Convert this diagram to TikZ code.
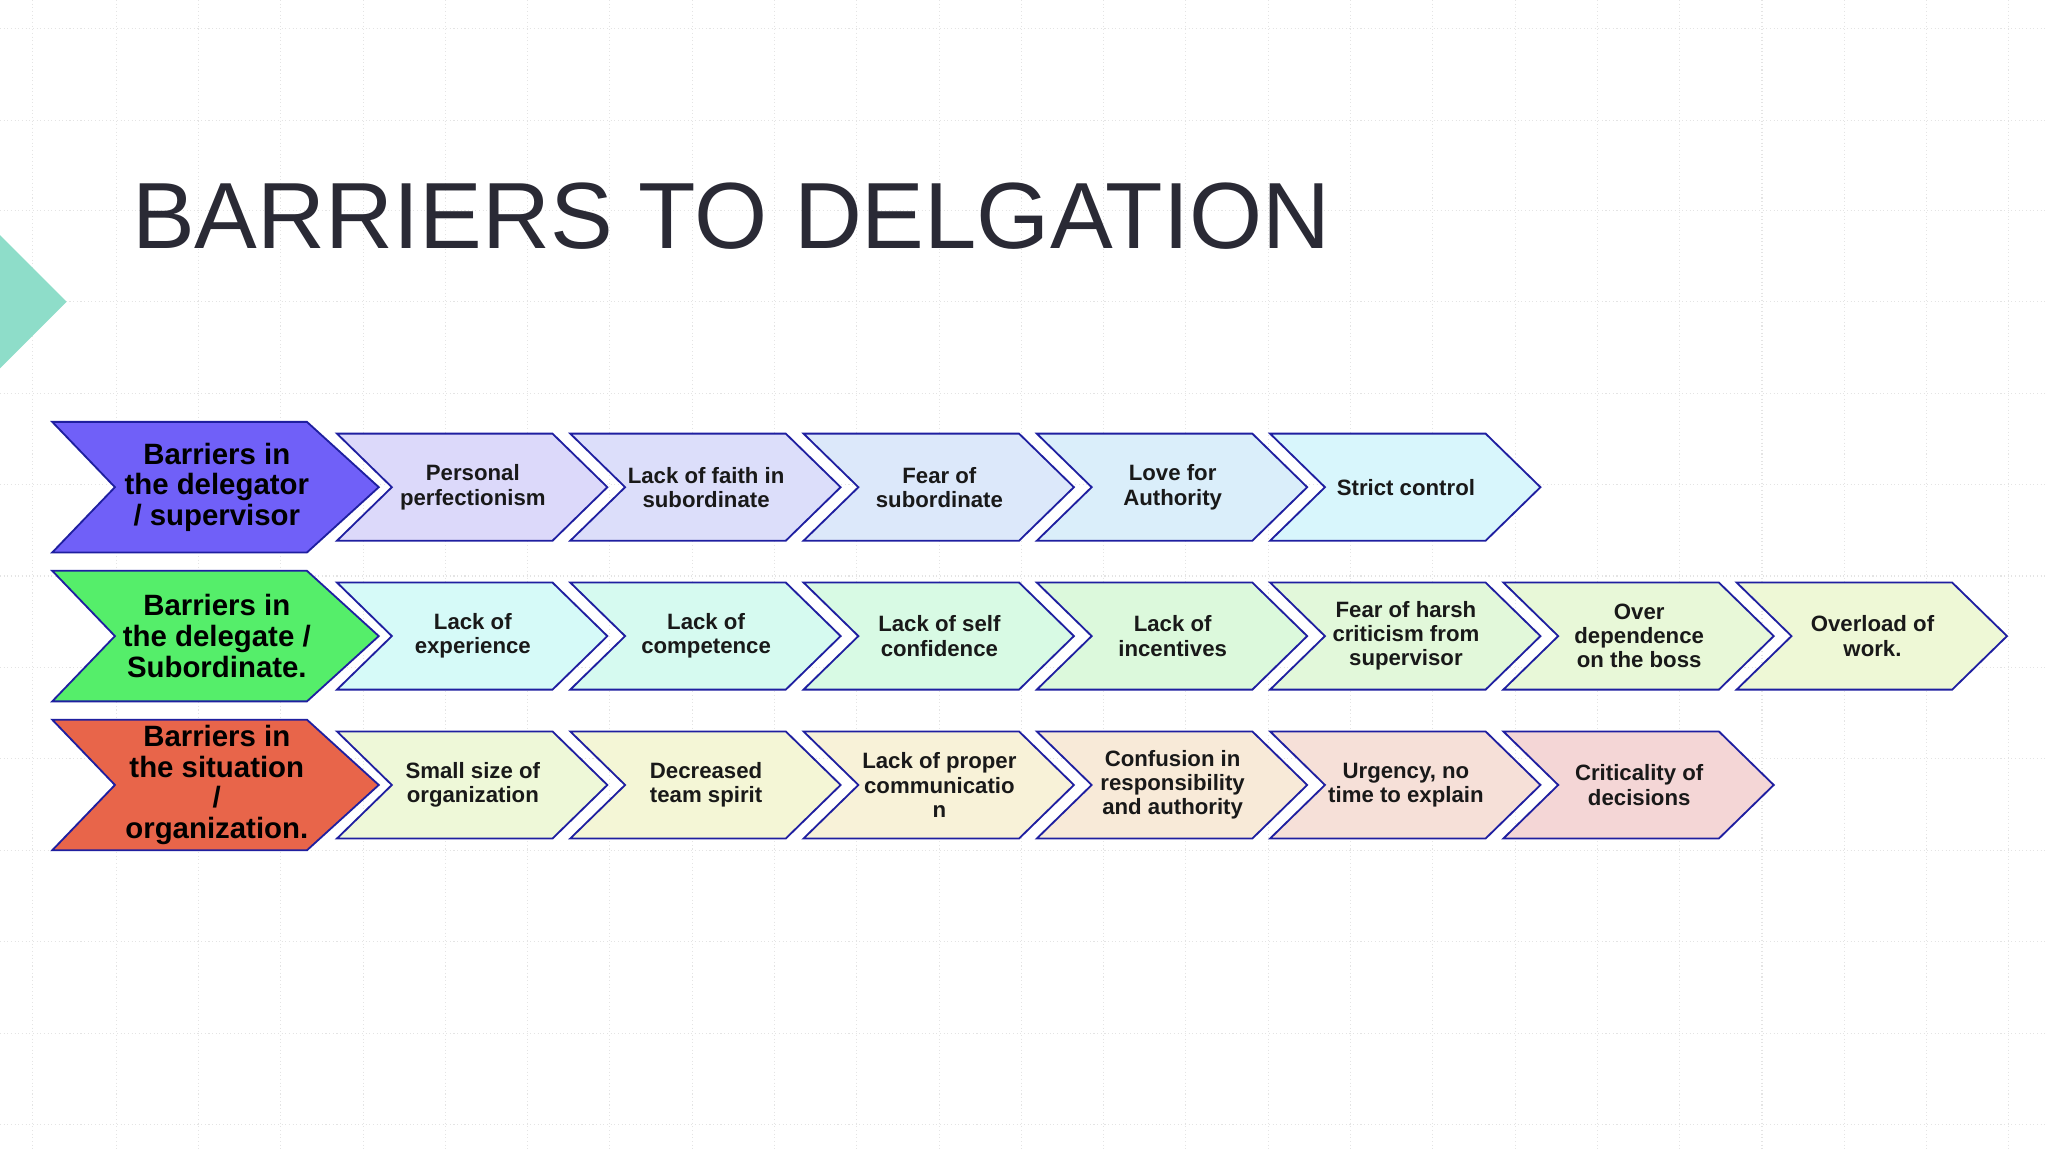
\documentclass[tikz,border=0pt]{standalone}
\usepackage{fontspec}
\setmainfont{Liberation Sans}
\definecolor{navy}{HTML}{1F1FA0}
\definecolor{gridc}{HTML}{E4E4E4}
\definecolor{teal1}{HTML}{8EDDC9}
\definecolor{titlec}{HTML}{2A2A35}
\definecolor{h1}{HTML}{7060F8}
\definecolor{h2}{HTML}{55EE6A}
\definecolor{h3}{HTML}{E8654A}
\tikzset{
 chevline/.style={draw=navy,line width=1.4pt,line join=miter},
 smalltxt/.style={align=center,font=\fontsize{17}{18.5}\selectfont\bfseries,text=black!90,inner sep=0pt},
 headtxt/.style={align=center,font=\fontsize{22.5}{23.5}\selectfont\bfseries,text=black,inner sep=0pt},
}
\newcommand\chev[5]{%
 \definecolor{chevfill}{HTML}{#3}%
 \filldraw[chevline,fill=chevfill] (#1,#2-41) -- ++(165,0) -- ++(42,41) -- ++(-42,41) -- ++(-165,0) -- ++(42,-41) -- cycle;
 \node[smalltxt] (#5) at (#1+104,#2) {#4};}
\newcommand\headchev[4]{%
 \filldraw[chevline,fill=#2] (40,#1-50) -- (235,#1-50) -- (290,#1) -- (235,#1+50) -- (40,#1+50) -- (88,#1) -- cycle;
 \node[headtxt] (#4) at (166,#1) {#3};}
\begin{document}
\begin{tikzpicture}[x=1pt,y=-1pt]
\useasboundingbox (0,0) rectangle (1568,882);
\fill[white] (0,0) rectangle (1568,882);
\foreach \gx in {25,89,152,215,278,341,404,467,530,593,656,719,782,845,908,971,1034,1097,1160,1223,1286,1349,1412,1475,1538}
  \draw[gridc,dotted,line width=0.8pt] (\gx,0) -- (\gx,882);
\foreach \gy in {22,92,161,231,301,371,441,511,581,651,721,791,861}
  \draw[gridc,dotted,line width=0.8pt] (0,\gy) -- (1568,\gy);
\fill[teal1] (0,180) -- (51,231) -- (0,282) -- cycle;
\node[anchor=base west,inner sep=0pt,text=titlec,font=\fontsize{72}{76}\selectfont] (title) at (101,190) {BARRIERS TO DELGATION};
% row 1
\headchev{373}{h1}{Barriers in\\the delegator\\/ supervisor}{hA}
\chev{258}{373}{DCD9FA}{Personal\\perfectionism}{a1}
\chev{436.6}{373}{DCDEFA}{Lack of faith in\\subordinate}{a2}
\chev{615.2}{373}{DCE8FA}{Fear of\\subordinate}{a3}
\chev{793.8}{373}{DAEEFA}{Love for\\Authority}{a4}
\chev{972.4}{373}{D8F6FC}{Strict control}{a5}
% row 2
\headchev{487}{h2}{Barriers in\\the delegate /\\Subordinate.}{hB}
\chev{258}{487}{D6FAF8}{Lack of\\experience}{b1}
\chev{436.6}{487}{D6FAF0}{Lack of\\competence}{b2}
\chev{615.2}{487}{D8FAE4}{Lack of self\\confidence}{b3}
\chev{793.8}{487}{DCF9DC}{Lack of\\incentives}{b4}
\chev{972.4}{487}{E2F8DA}{Fear of harsh\\criticism from\\supervisor}{b5}
\chev{1151}{487}{E8F8D8}{Over\\dependence\\on the boss}{b6}
\chev{1329.6}{487}{EEF8D6}{Overload of\\work.}{b7}
% row 3
\headchev{601}{h3}{Barriers in\\the situation\\/\\organization.}{hC}
\chev{258}{601}{EEF8D8}{Small size of\\organization}{c1}
\chev{436.6}{601}{F4F6D6}{Decreased\\team spirit}{c2}
\chev{615.2}{601}{F8F2D8}{Lack of proper\\communicatio\\n}{c3}
\chev{793.8}{601}{F8EAD8}{Confusion in\\responsibility\\and authority}{c4}
\chev{972.4}{601}{F6E0D8}{Urgency, no\\time to explain}{c5}
\chev{1151}{601}{F4D6D6}{Criticality of\\decisions}{c6}
\end{tikzpicture}
\end{document}
